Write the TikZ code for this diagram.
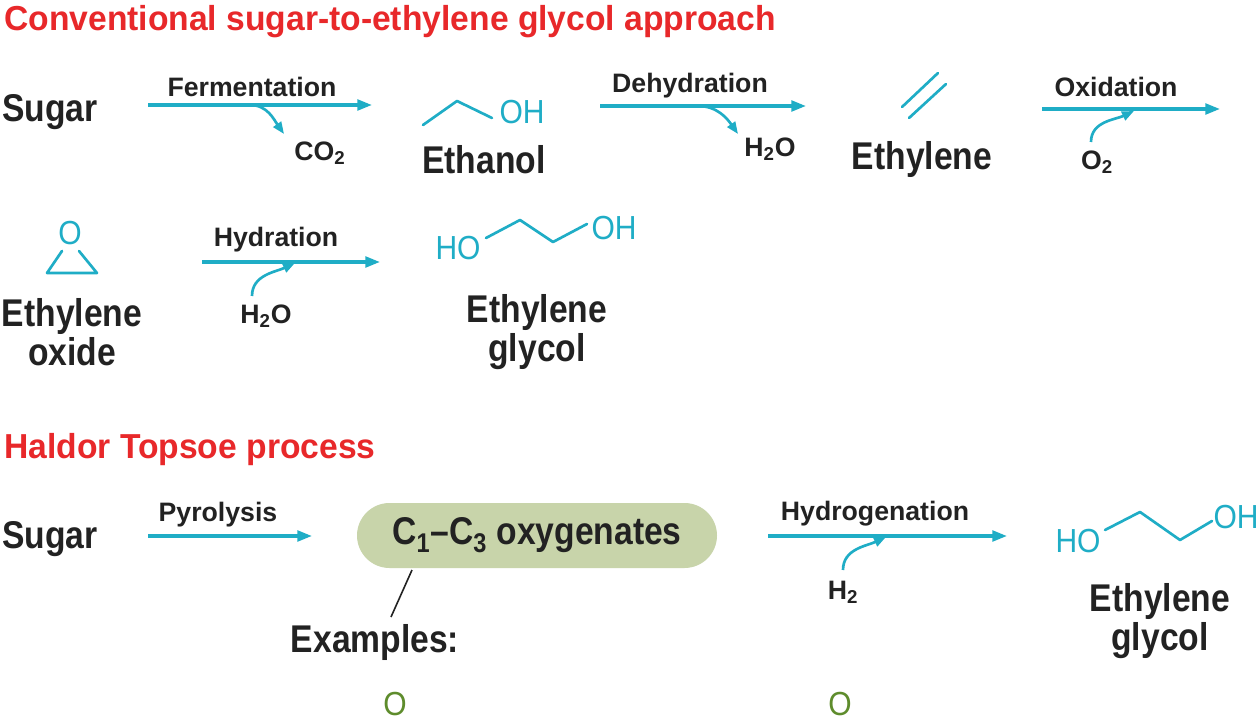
\documentclass[tikz,border=0pt]{standalone}
\usepackage{fontspec}
\setmainfont{Liberation Sans}
\newfontfamily\ttlfont{Liberation Sans}[FakeStretch=0.97]
\newfontfamily\bigfont{Liberation Sans}[FakeStretch=0.87]
\newfontfamily\labfont{Liberation Sans}[FakeStretch=1.0]
\newfontfamily\chemfont{Liberation Sans}[FakeStretch=0.9]
\usetikzlibrary{arrows.meta}
\definecolor{cy}{HTML}{1FADC6}
\definecolor{rd}{HTML}{E8282A}
\definecolor{gbox}{HTML}{C8D4AA}
\definecolor{gO}{HTML}{5E8C2C}
\definecolor{tx}{HTML}{222222}
\tikzset{
  ttl/.style={font=\ttlfont\fontsize{26}{30}\selectfont\bfseries, text=rd, anchor=west, inner sep=0pt},
  big/.style={font=\bigfont\fontsize{29}{29}\selectfont\bfseries, text=tx, inner sep=0pt, align=center},
  lab/.style={font=\labfont\fontsize{20}{22}\selectfont\bfseries, text=tx, inner sep=0pt},
  chem/.style={font=\chemfont\fontsize{25}{27}\selectfont, text=cy, inner sep=0pt},
  gchem/.style={font=\chemfont\fontsize{25}{27}\selectfont, text=gO, inner sep=0pt},
  mainarr/.style={draw=cy, line width=2.4pt, -{Triangle[length=11pt,width=8pt]}},
  brarr/.style={draw=cy, line width=2pt, -{Triangle[length=9pt,width=7pt]}},
  bond/.style={draw=cy, line width=2pt, line cap=round, line join=round},
  pill/.style={fill=gbox, rounded corners=24.4pt, minimum width=270pt, minimum height=48.75pt,
    font=\bigfont\fontsize{29}{29}\selectfont\bfseries, text=tx, inner sep=0pt},
}
\begin{document}
\begin{tikzpicture}[x=0.75pt,y=-0.75pt]
\useasboundingbox (0,0) rectangle (1260,720);
\fill[white] (0,0) rectangle (1260,720);
% titles
\node[ttl] (t1) at (4,22) {Conventional sugar-to-ethylene glycol approach};
\node[ttl] (t2) at (4,450) {Haldor Topsoe process};

% ---- row 1
\node[big,anchor=west] (sug1) at (2,112) {Sugar};
\coordinate (a1s) at (148,105); \coordinate (a1e) at (372,105);
\draw[mainarr] (a1s) -- (a1e);
\node[lab] (l1) at (252,87) {Fermentation};
\coordinate (b1s) at (250,105); \coordinate (b1e) at (284,134);
\draw[brarr] (b1s) to[out=0,in=125] (b1e);
\node[lab] (co2) at (320,153) {CO\textsubscript{2}};

% ethanol
\coordinate (e1) at (423,125); \coordinate (e2) at (457,101);
\node[chem] (oh1) at (522,112) {OH};
\draw[bond] (e1) -- (e2) -- (492,118);
\node[big] (eth) at (484,160) {Ethanol};

\coordinate (a2s) at (600,106); \coordinate (a2e) at (806,106);
\draw[mainarr] (a2s) -- (a2e);
\node[lab] (l2) at (690,86) {Dehydration};
\coordinate (b2s) at (698,106); \coordinate (b2e) at (738,134);
\draw[brarr] (b2s) to[out=0,in=125] (b2e);
\node[lab] (h2o1) at (770,149) {H\textsubscript{2}O};

% ethylene
\draw[bond] (902,107) -- (938,73);
\draw[bond] (909,118) -- (946,84);
\node[big] (ethy) at (922,160) {Ethylene};

\coordinate (a3s) at (1042,109); \coordinate (a3e) at (1220,109);
\draw[mainarr] (a3s) -- (a3e);
\node[lab] (l3) at (1116,87) {Oxidation};
\coordinate (b3s) at (1091,142); \coordinate (b3e) at (1134,111);
\draw[brarr] (b3s) to[out=90,in=205] (b3e);
\node[lab] (o2) at (1097,162) {O\textsubscript{2}};

% ---- row 2
\node[chem] (epo) at (70,233) {O};
\draw[bond] (62,251) -- (47,273) -- (97,273) -- (79,251);
\node[big] (eo) at (72,332) {Ethylene\\oxide};

\coordinate (a4s) at (202,262); \coordinate (a4e) at (380,262);
\draw[mainarr] (a4s) -- (a4e);
\node[lab] (l4) at (276,240) {Hydration};
\coordinate (b4s) at (252,296); \coordinate (b4e) at (295,263);
\draw[brarr] (b4s) to[out=90,in=205] (b4e);
\node[lab] (h2o2) at (266,316) {H\textsubscript{2}O};

\node[chem] (ho1) at (458,248) {HO};
\node[chem] (oh2) at (614,228) {OH};
\draw[bond] (486,238) -- (520,220) -- (553,242) -- (587,224);
\node[big] (eg1) at (537,332) {Ethylene\\glycol};

% ---- row 3
\node[big,anchor=west] (sug2) at (2,539) {Sugar};
\coordinate (a5s) at (148,536); \coordinate (a5e) at (312,536);
\draw[mainarr] (a5s) -- (a5e);
\node[lab] (l5) at (218,515) {Pyrolysis};

\node[pill] (ox) at (537,535.5) {C\textsubscript{1}\textendash C\textsubscript{3} oxygenates};
\node[big] (ex) at (375,642) {Examples:};
\coordinate (p1) at (412,570); \coordinate (p2) at (391,617);
\draw[tx, line width=1.2pt] (p1) -- (p2);
\node[gchem] (ga) at (395,704) {O};
\node[gchem] (gb) at (840,704) {O};

\coordinate (a6s) at (768,536); \coordinate (a6e) at (1007,536);
\draw[mainarr] (a6s) -- (a6e);
\node[lab] (l6) at (875,514) {Hydrogenation};
\coordinate (b6s) at (843,570); \coordinate (b6e) at (886,537);
\draw[brarr] (b6s) to[out=90,in=205] (b6e);
\node[lab] (h2) at (843,592) {H\textsubscript{2}};

\node[chem] (ho2) at (1078,541) {HO};
\node[chem] (oh3) at (1236,517) {OH};
\draw[bond] (1105,530) -- (1140,512) -- (1180,540) -- (1212,521);
\node[big] (eg2) at (1160,621) {Ethylene\\glycol};
\end{tikzpicture}
\end{document}
